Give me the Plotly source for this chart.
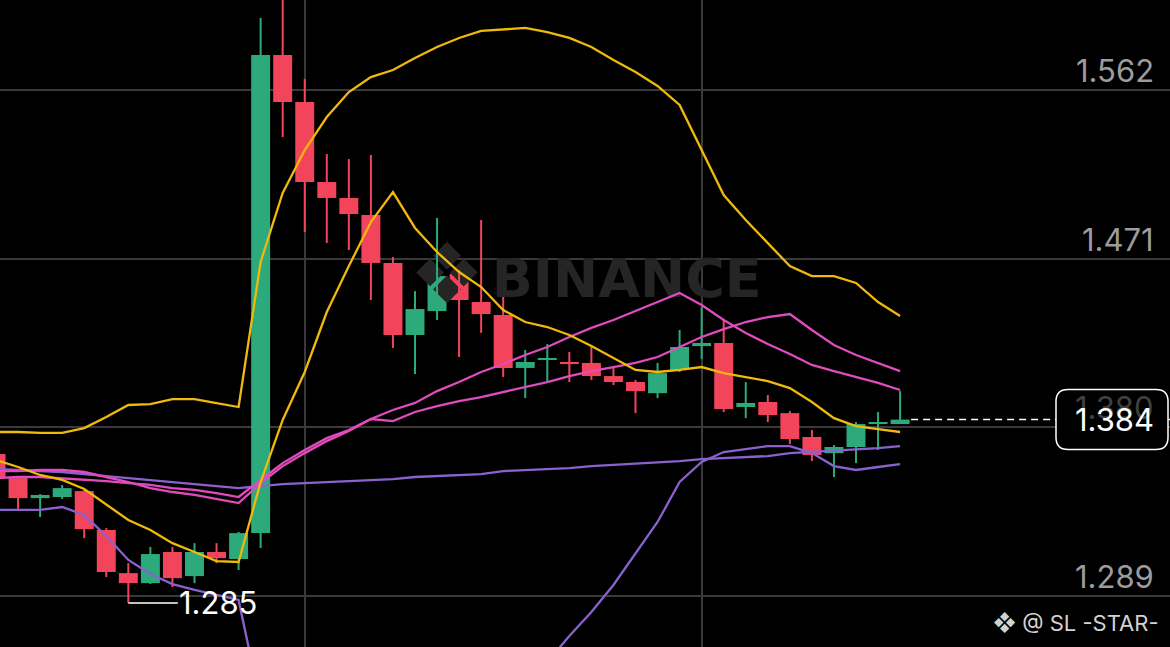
import plotly.graph_objects as go

# ---------------- data ----------------
OPEN = [1.3654, 1.3524, 1.3416, 1.3422, 1.3454, 1.3244, 1.3011, 1.2957, 1.3125, 1.2995,
        1.3125, 1.3087, 1.3227, 1.5809, 1.5555, 1.5123, 1.5037, 1.4945, 1.4686, 1.4297,
        1.4426, 1.4626, 1.4475, 1.4405, 1.4119, 1.4162, 1.4151, 1.4146, 1.4075, 1.4043,
        1.3983, 1.4108, 1.4237, 1.4254, 1.3908, 1.3935, 1.3875, 1.3746, 1.3659, 1.3692,
        1.3816, 1.3816]
HIGH = [1.3686, 1.3535, 1.3438, 1.3487, 1.3460, 1.3254, 1.3065, 1.3152, 1.3152, 1.3173,
        1.3173, 1.3233, 1.6009, 1.6130, 1.5679, 1.5274, 1.5247, 1.5269, 1.4718, 1.4534,
        1.4929, 1.4648, 1.4918, 1.4502, 1.4216, 1.4248, 1.4205, 1.4232, 1.4129, 1.4054,
        1.4146, 1.4324, 1.4448, 1.4383, 1.4043, 1.3973, 1.3886, 1.3784, 1.3703, 1.3827,
        1.3881, 1.3994]
LOW = [1.3503, 1.3352, 1.3314, 1.3411, 1.3200, 1.2990, 1.2850, 1.2952, 1.2936, 1.2957,
       1.3065, 1.3028, 1.3146, 1.5366, 1.4853, 1.4794, 1.4756, 1.4486, 1.4227, 1.4086,
       1.4378, 1.4178, 1.4308, 1.4070, 1.3956, 1.4043, 1.4043, 1.4054, 1.4027, 1.3875,
       1.3956, 1.4097, 1.4167, 1.3881, 1.3848, 1.3827, 1.3708, 1.3616, 1.3530, 1.3605,
       1.3676, 1.3816]
CLOSE = [1.3524, 1.3416, 1.3433, 1.3470, 1.3249, 1.3017, 1.2957, 1.3114, 1.2984, 1.3125,
         1.3092, 1.3227, 1.5809, 1.5555, 1.5123, 1.5037, 1.4950, 1.4686, 1.4297, 1.4437,
         1.4615, 1.4486, 1.4410, 1.4119, 1.4151, 1.4173, 1.4140, 1.4075, 1.4043, 1.3994,
         1.4091, 1.4232, 1.4254, 1.3897, 1.3930, 1.3865, 1.3735, 1.3649, 1.3692, 1.3816,
         1.3827, 1.3840]

BOLL_UP = [1.3773, 1.3773, 1.3768, 1.3768, 1.3794, 1.3854, 1.3919, 1.3924, 1.3951, 1.3951,
           1.3929, 1.3908, 1.4691, 1.5064, 1.5296, 1.5474, 1.5609, 1.5690, 1.5728, 1.5793,
           1.5852, 1.5901, 1.5939, 1.5949, 1.5955, 1.5933, 1.5901, 1.5852, 1.5782, 1.5717,
           1.5642, 1.5539, 1.5296, 1.5053, 1.4918, 1.4794, 1.4669, 1.4615, 1.4615, 1.4578,
           1.4475, 1.4399]
BOLL_MB = [1.3562, 1.3562, 1.3568, 1.3568, 1.3557, 1.3530, 1.3503, 1.3470, 1.3449, 1.3433,
           1.3411, 1.3389, 1.3497, 1.3589, 1.3659, 1.3724, 1.3778, 1.3843, 1.3892, 1.3930,
           1.3994, 1.4043, 1.4097, 1.4140, 1.4189, 1.4232, 1.4286, 1.4335, 1.4378, 1.4426,
           1.4475, 1.4524, 1.4459, 1.4378, 1.4308, 1.4248, 1.4194, 1.4135, 1.4102, 1.4070,
           1.4038, 1.4000]
BOLL_DN = [1.3352, 1.3352, 1.3352, 1.3368, 1.3325, 1.3211, 1.3082, 1.3006, 1.2952, 1.2920,
           1.2893, 1.2866, 1.2304, 1.2115, 1.2023, 1.1974, 1.1947, 1.1996, 1.2055, 1.2066,
           1.2136, 1.2185, 1.2255, 1.2331, 1.2423, 1.2531, 1.2671, 1.2801, 1.2947, 1.3114,
           1.3287, 1.3503, 1.3611, 1.3665, 1.3681, 1.3697, 1.3697, 1.3659, 1.3589, 1.3568,
           1.3584, 1.3600]
MA7 = [1.3622, 1.3584, 1.3541, 1.3514, 1.3465, 1.3379, 1.3298, 1.3244, 1.3173, 1.3125,
       1.3076, 1.3071, 1.3503, 1.3838, 1.4097, 1.4421, 1.4669, 1.4907, 1.5069, 1.4875,
       1.4745, 1.4637, 1.4556, 1.4432, 1.4367, 1.4340, 1.4297, 1.4237, 1.4171, 1.4108,
       1.4097, 1.4108, 1.4124, 1.4091, 1.4070, 1.4048, 1.4010, 1.3935, 1.3848, 1.3805,
       1.3789, 1.3773]
MA25 = [1.3524, 1.3530, 1.3530, 1.3524, 1.3514, 1.3508, 1.3497, 1.3487, 1.3470, 1.3460,
        1.3443, 1.3422, 1.3514, 1.3605, 1.3676, 1.3740, 1.3784, 1.3843, 1.3832, 1.3881,
        1.3913, 1.3940, 1.3962, 1.3989, 1.4016, 1.4043, 1.4075, 1.4102, 1.4124, 1.4146,
        1.4178, 1.4232, 1.4286, 1.4329, 1.4367, 1.4394, 1.4410, 1.4324, 1.4243, 1.4189,
        1.4146, 1.4102]
MA99 = [1.3573, 1.3568, 1.3562, 1.3557, 1.3546, 1.3535, 1.3524, 1.3514, 1.3503, 1.3492,
        1.3481, 1.3470, 1.3481, 1.3492, 1.3497, 1.3503, 1.3508, 1.3514, 1.3519, 1.3530,
        1.3535, 1.3541, 1.3546, 1.3562, 1.3568, 1.3573, 1.3578, 1.3589, 1.3595, 1.3605,
        1.3611, 1.3616, 1.3627, 1.3632, 1.3638, 1.3643, 1.3659, 1.3665, 1.3670, 1.3676,
        1.3686, 1.3697]

Y_GRID = [1.289, 1.380, 1.471, 1.562]
X_GRID = [14, 32]
Y_RANGE = [1.2612, 1.6106]
X_RANGE = [0.18, 53.24]
WATERMARK = "BINANCE"
CREDIT = "❖ @ SL -STAR-"

# ---------------- styles ----------------
GREEN = "#2DAA7B"
RED = "#F2455C"
YELLOW = "#F0B90B"
PINK = "#E04BBE"
PURPLE = "#8A62CF"
GRID = "#3a3a3a"
FONT = "Inter"

idx = list(range(len(OPEN)))
up = [c >= o for o, c in zip(OPEN, CLOSE)]
colors = [GREEN if u else RED for u in up]

fig = go.Figure()

# watermark (drawn first so candles sit on top)
fig.add_trace(go.Scatter(x=[20.45], y=[1.4585], mode="text", text=["❖"],
                         textfont=dict(family="DejaVu Sans", size=84, color="#252525"),
                         hoverinfo="skip"))
fig.add_trace(go.Scatter(x=[28.6], y=[1.4575], mode="text", text=[WATERMARK],
                         textfont=dict(family="DejaVu Sans", size=54, color="#252525", weight="bold"),
                         hoverinfo="skip"))

# wicks
for flag, col in ((True, GREEN), (False, RED)):
    xs, ys = [], []
    for i in idx:
        if up[i] == flag:
            xs += [i, i, None]
            ys += [LOW[i], HIGH[i], None]
    fig.add_trace(go.Scatter(x=xs, y=ys, mode="lines", line=dict(color=col, width=2),
                             hoverinfo="skip"))

# bodies
fig.add_trace(go.Bar(x=idx, y=[abs(c - o) for o, c in zip(OPEN, CLOSE)],
                     base=[min(o, c) for o, c in zip(OPEN, CLOSE)],
                     width=0.86, marker=dict(color=colors, line=dict(width=0)),
                     hoverinfo="skip"))

# indicator lines
for series, col in ((MA99, PURPLE), (BOLL_DN, PURPLE), (MA25, PINK), (BOLL_MB, PINK),
                    (BOLL_UP, YELLOW), (MA7, YELLOW)):
    fig.add_trace(go.Scatter(x=idx, y=series, mode="lines",
                             line=dict(color=col, width=2.3), hoverinfo="skip"))

last = CLOSE[-1]
low_i = min(idx, key=lambda i: LOW[i])

annotations = []
for v in Y_GRID:
    covered = abs(v - last) < 0.02
    annotations.append(dict(xref="paper", x=1, xanchor="right", xshift=-14,
                            yref="y", y=v, yanchor="bottom", yshift=-1,
                            text=f"{v:.3f}", showarrow=False,
                            font=dict(family=FONT, size=31,
                                      color="#404040" if covered else "#9c9c9c")))
annotations.append(dict(xref="paper", x=1, xanchor="right", xshift=-14,
                        yref="y", y=last, yanchor="middle",
                        text=f"{last:.3f}", showarrow=False,
                        font=dict(family=FONT, size=31, color="#ffffff")))
annotations.append(dict(x=low_i, y=LOW[low_i], text=f"{LOW[low_i]:.3f}",
                        showarrow=True, arrowhead=0, arrowwidth=1.5, arrowcolor="#ffffff",
                        ax=90, ay=0, standoff=0,
                        font=dict(family=FONT, size=31, color="#ffffff")))
annotations.append(dict(xref="paper", x=1, xanchor="right", xshift=-9,
                        yref="paper", y=0, yanchor="bottom", yshift=9,
                        text=CREDIT, showarrow=False,
                        font=dict(family=FONT, size=22, color="#d2d2d2")))

shapes = [
    dict(type="line", xref="x", yref="y", x0=idx[-1] + 0.5, x1=X_RANGE[1], y0=last, y1=last,
         line=dict(color="#ffffff", width=1.5, dash="7px,5px"), layer="above"),
    dict(type="path", xref="paper", xsizemode="pixel", xanchor=1,
         yref="y", ysizemode="pixel", yanchor=last,
         path="M -102,-30 L -14,-30 Q -2,-30 -2,-18 L -2,18 Q -2,30 -14,30 "
              "L -102,30 Q -114,30 -114,18 L -114,-18 Q -114,-30 -102,-30 Z",
         fillcolor="#000000", line=dict(color="#ffffff", width=1.5), layer="above"),
]

fig.update_layout(
    width=1170, height=647, margin=dict(l=0, r=0, t=0, b=0),
    paper_bgcolor="#000000", plot_bgcolor="#000000",
    showlegend=False, barmode="overlay",
    xaxis=dict(range=X_RANGE, tickvals=X_GRID, showticklabels=False, showgrid=True,
               gridcolor=GRID, gridwidth=1.5, zeroline=False, showline=False, ticks=""),
    yaxis=dict(range=Y_RANGE, tickvals=Y_GRID, showticklabels=False, showgrid=True,
               gridcolor=GRID, gridwidth=1.5, zeroline=False, showline=False, ticks=""),
    annotations=annotations, shapes=shapes,
)

fig.write_html("out.html", config={"displayModeBar": False},
               post_script="document.body.style.margin='0';")
